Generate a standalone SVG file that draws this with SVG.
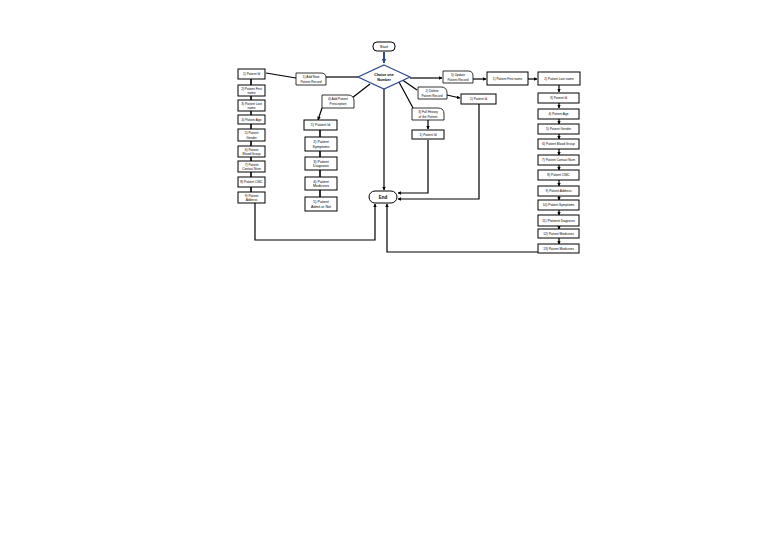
<svg xmlns="http://www.w3.org/2000/svg" width="768" height="543" viewBox="0 0 768 543">
<defs>
<style>
.b{fill:#fff;stroke:#000;stroke-width:1}
.c{fill:#fff;stroke:#000;stroke-width:0.8}
.t{font-family:"Liberation Sans",Arial,sans-serif;font-size:3.2px;fill:#000;text-anchor:middle}
.tb{font-family:"Liberation Sans",Arial,sans-serif;font-size:4px;font-weight:bold;fill:#000;text-anchor:middle}
.l{fill:none;stroke:#000;stroke-width:1.2}
.s{fill:none;stroke:#000;stroke-width:1.6}
</style>
<marker id="a" viewBox="0 0 10 10" refX="9" refY="5" markerWidth="3" markerHeight="3" orient="auto" markerUnits="strokeWidth"><path d="M0,0 L10,5 L0,10 z" fill="#000"/></marker>
<marker id="ab" viewBox="0 0 10 10" refX="9" refY="5" markerWidth="2.5" markerHeight="2.5" orient="auto" markerUnits="strokeWidth"><path d="M0,0 L10,5 L0,10 z" fill="#2e4a8c"/></marker>
</defs>
<rect width="768" height="543" fill="#fff"/>

<g id="connectors">
<line x1="384" y1="52" x2="384" y2="63" stroke="#2e4a8c" stroke-width="2" marker-end="url(#ab)"/>
<line class="l" x1="358" y1="77" x2="326" y2="77"/>
<line class="l" x1="296" y1="78" x2="266" y2="73"/>
<line class="l" x1="370" y1="84" x2="352" y2="98"/>
<line class="l" x1="322" y1="108" x2="318" y2="120" marker-end="url(#a)"/>
<line class="l" x1="384" y1="89" x2="384" y2="190" marker-end="url(#a)"/>
<line class="l" x1="410" y1="78" x2="442" y2="78" marker-end="url(#a)"/>
<line class="l" x1="473" y1="79" x2="486" y2="79" marker-end="url(#a)"/>
<line class="l" x1="528" y1="79" x2="537" y2="79" marker-end="url(#a)"/>
<line class="l" x1="401" y1="79" x2="417" y2="90"/>
<line class="l" x1="447" y1="95" x2="460" y2="98" marker-end="url(#a)"/>
<line class="l" x1="399" y1="82" x2="413" y2="108"/>
<line class="l" x1="428" y1="120" x2="428" y2="129" marker-end="url(#a)"/>
<polyline class="l" points="428,140 428,193 398,193" marker-end="url(#a)"/>
<polyline class="l" points="479,104 479,199 398,199" marker-end="url(#a)"/>
<polyline class="l" points="255,203 255,240 375,240 375,204" marker-end="url(#a)"/>
<polyline class="l" points="538,252 387,252 387,204" marker-end="url(#a)"/>
<!-- left column links -->
<line class="s" x1="251" y1="79" x2="251" y2="85"/>
<line class="s" x1="251" y1="96" x2="251" y2="100"/>
<line class="s" x1="251" y1="111" x2="251" y2="115"/>
<line class="s" x1="251" y1="124" x2="251" y2="129"/>
<line class="s" x1="251" y1="141" x2="251" y2="146"/>
<line class="s" x1="251" y1="157" x2="251" y2="161"/>
<line class="s" x1="251" y1="172" x2="251" y2="177"/>
<line class="s" x1="251" y1="187" x2="251" y2="192"/>
<!-- middle column links -->
<line class="s" x1="320" y1="130" x2="320" y2="137"/>
<line class="s" x1="320" y1="151" x2="320" y2="157"/>
<line class="s" x1="320" y1="170" x2="320" y2="177"/>
<line class="s" x1="320" y1="190" x2="320" y2="197"/>
<!-- right column links -->
<line class="l" x1="559" y1="85" x2="559" y2="92" marker-end="url(#a)"/>
<line class="l" x1="559" y1="103" x2="559" y2="108" marker-end="url(#a)"/>
<line class="l" x1="559" y1="119" x2="559" y2="124" marker-end="url(#a)"/>
<line class="l" x1="559" y1="134" x2="559" y2="139" marker-end="url(#a)"/>
<line class="l" x1="559" y1="149" x2="559" y2="155" marker-end="url(#a)"/>
<line class="l" x1="559" y1="165" x2="559" y2="170" marker-end="url(#a)"/>
<line class="l" x1="559" y1="180" x2="559" y2="186" marker-end="url(#a)"/>
<line class="l" x1="559" y1="196" x2="559" y2="200" marker-end="url(#a)"/>
<line class="l" x1="559" y1="210" x2="559" y2="215" marker-end="url(#a)"/>
<line class="l" x1="559" y1="226" x2="559" y2="229" marker-end="url(#a)"/>
<line class="l" x1="559" y1="238" x2="559" y2="244" marker-end="url(#a)"/>
</g>

<g id="start"><rect x="373" y="42" width="22" height="9" rx="4" class="b"/><text class="t" x="384" y="48" style="font-size:4px">Start</text></g>
<g id="choice"><polygon points="384,65 410,77 384,89 358,77" fill="#fff" stroke="#2e4a8c" stroke-width="1.2"/><text class="tb" x="384" y="76" style="font-size:3.6px">Choice one</text><text class="tb" x="384" y="81" style="font-size:3.6px">Number</text></g>
<g id="end"><rect x="369" y="191" width="28" height="12" rx="6" class="b"/><text class="tb" x="383" y="198.5" style="font-size:4.5px">End</text></g>

<g id="add-new"><path d="M296,73 H321 Q326,73 326,78 V85 H296 Z" class="c"/><text class="t" x="311" y="78">1) Add New</text><text class="t" x="311" y="82.5">Patient Record</text></g>
<g id="add-presc"><path d="M322,95 H348 Q354,95 354,101 V108 H322 Z" class="c"/><text class="t" x="338" y="100">4) Add Patient</text><text class="t" x="338" y="104.5">Prescription</text></g>
<g id="update"><path d="M443,71 H468 Q473,71 473,76 V83 H443 Z" class="c"/><text class="t" x="458" y="76">5) Update</text><text class="t" x="458" y="80.5">Patient Record</text></g>
<g id="delete"><path d="M418,87 H441 Q447,87 447,93 V99 H418 Z" class="c"/><text class="t" x="432" y="92">2) Delete</text><text class="t" x="432" y="96.5">Patient Record</text></g>
<g id="history"><path d="M412,108 H438 Q444,108 444,114 V120 H412 Z" class="c"/><text class="t" x="428" y="113">3) Full History</text><text class="t" x="428" y="117.5">of the Patient</text></g>

<g id="l1"><rect x="238" y="69" width="27" height="10" class="b"/><text class="t" x="251.5" y="75">1) Patient Id</text></g>
<g id="l2"><rect x="238" y="85" width="27" height="11" class="b"/><text class="t" x="251.5" y="89.5">2) Patient First</text><text class="t" x="251.5" y="93.5">name</text></g>
<g id="l3"><rect x="238" y="100" width="27" height="11" class="b"/><text class="t" x="251.5" y="104.5">3) Patient Last</text><text class="t" x="251.5" y="108.5">name</text></g>
<g id="l4"><rect x="238" y="115" width="27" height="9" class="b"/><text class="t" x="251.5" y="120.5">4) Patient Age</text></g>
<g id="l5"><rect x="238" y="129" width="27" height="12" class="b"/><text class="t" x="251.5" y="134">5) Patient</text><text class="t" x="251.5" y="138.5">Gender</text></g>
<g id="l6"><rect x="238" y="146" width="27" height="11" class="b"/><text class="t" x="251.5" y="150.5">6) Patient</text><text class="t" x="251.5" y="154.5">Blood Group</text></g>
<g id="l7"><rect x="238" y="161" width="27" height="11" class="b"/><text class="t" x="251.5" y="165.5">7) Patient</text><text class="t" x="251.5" y="169.5">Contact Num</text></g>
<g id="l8"><rect x="238" y="177" width="27" height="10" class="b"/><text class="t" x="251.5" y="183">8) Patient CNIC</text></g>
<g id="l9"><rect x="238" y="192" width="27" height="11" class="b"/><text class="t" x="251.5" y="196.5">9) Patient</text><text class="t" x="251.5" y="200.5">Address</text></g>

<g id="m1"><rect x="304" y="120" width="33" height="10" class="b"/><text class="t" x="320.5" y="126" style="font-size:3.6px">1)  Patient Id</text></g>
<g id="m2"><rect x="305" y="137" width="32" height="14" class="b"/><text class="t" x="321" y="143" style="font-size:3.6px">2)  Patient</text><text class="t" x="321" y="147.5" style="font-size:3.6px">Symptoms</text></g>
<g id="m3"><rect x="305" y="157" width="32" height="13" class="b"/><text class="t" x="321" y="162.5" style="font-size:3.6px">3)  Patient</text><text class="t" x="321" y="167" style="font-size:3.6px">Diagnosis</text></g>
<g id="m4"><rect x="305" y="177" width="32" height="13" class="b"/><text class="t" x="321" y="182.5" style="font-size:3.6px">4)  Patient</text><text class="t" x="321" y="187" style="font-size:3.6px">Medicines</text></g>
<g id="m5"><rect x="305" y="197" width="32" height="14" class="b"/><text class="t" x="321" y="203" style="font-size:3.6px">5)  Patient</text><text class="t" x="321" y="207.5" style="font-size:3.6px">Admit or Not</text></g>

<g id="d1"><rect x="461" y="94" width="35" height="10" class="b"/><text class="t" x="478.5" y="100">1) Patient Id</text></g>
<g id="h1"><rect x="412" y="130" width="32" height="9" class="b"/><text class="t" x="428" y="135.5">1) Patient Id</text></g>

<g id="u1"><rect x="487" y="72" width="41" height="13" class="b"/><text class="t" x="507.5" y="79.5">1) Patient First name</text></g>
<g id="r2"><rect x="538" y="72" width="42" height="13" class="b"/><text class="t" x="559" y="79.5">2) Patient Last name</text></g>
<g id="r3"><rect x="538" y="93" width="41" height="10" class="b"/><text class="t" x="558.5" y="99">3) Patient Id</text></g>
<g id="r4"><rect x="538" y="109" width="41" height="10" class="b"/><text class="t" x="558.5" y="115">4) Patient Age</text></g>
<g id="r5"><rect x="538" y="124" width="41" height="10" class="b"/><text class="t" x="558.5" y="130">5) Patient Gender</text></g>
<g id="r6"><rect x="538" y="139" width="41" height="10" class="b"/><text class="t" x="558.5" y="145">6) Patient Blood Group</text></g>
<g id="r7"><rect x="538" y="155" width="41" height="10" class="b"/><text class="t" x="558.5" y="161">7) Patient Contact Num</text></g>
<g id="r8"><rect x="538" y="170" width="41" height="10" class="b"/><text class="t" x="558.5" y="176">8) Patient CNIC</text></g>
<g id="r9"><rect x="538" y="186" width="41" height="10" class="b"/><text class="t" x="558.5" y="192">9) Patient Address</text></g>
<g id="r10"><rect x="538" y="200" width="41" height="10" class="b"/><text class="t" x="558.5" y="206">10) Patient Symptoms</text></g>
<g id="r11"><rect x="538" y="215" width="41" height="11" class="b"/><text class="t" x="558.5" y="221.5">11) <tspan style="font-size:4px">Patient</tspan> Diagnosis</text></g>
<g id="r12"><rect x="538" y="229" width="41" height="9" class="b"/><text class="t" x="558.5" y="234.5">12) Patient Medicines</text></g>
<g id="r13"><rect x="538" y="244" width="41" height="9" class="b"/><text class="t" x="558.5" y="249.5">13) Patient Medicines</text></g>
</svg>
